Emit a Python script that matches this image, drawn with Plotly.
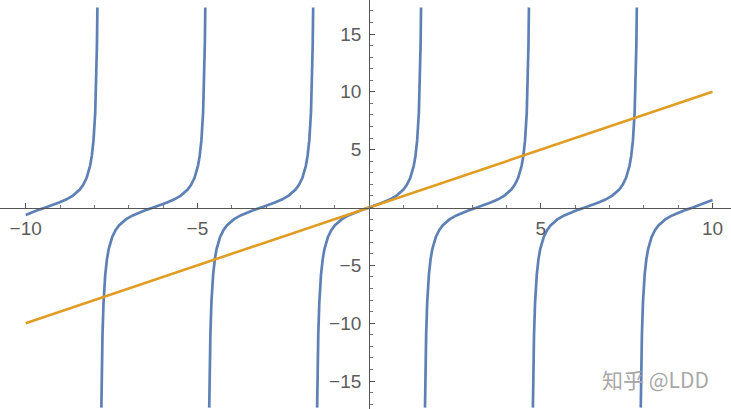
import plotly.graph_objects as go

# y = tan(x) branches (shared shape per branch)
branch_y = [-17.3, -14.10, -10.98, -8.238, -5.798, -4.455, -3.602, -2.572, -1.965, -1.557,
            -1.030, -0.684, -0.423, -0.203, 0.0, 0.203, 0.423, 0.684, 1.030, 1.557,
            1.965, 2.572, 3.602, 4.455, 5.798, 8.238, 10.98, 14.10, 17.3]

x_b0 = [-1.513, -1.5, -1.48, -1.45, -1.4, -1.35, -1.3, -1.2, -1.1, -1.0,
        -0.8, -0.6, -0.4, -0.2, 0.0, 0.2, 0.4, 0.6, 0.8, 1.0,
        1.1, 1.2, 1.3, 1.35, 1.4, 1.45, 1.48, 1.5, 1.513]
x_b1 = [1.6286, 1.6416, 1.6616, 1.6916, 1.7416, 1.7916, 1.8416, 1.9416, 2.0416, 2.1416,
        2.3416, 2.5416, 2.7416, 2.9416, 3.1416, 3.3416, 3.5416, 3.7416, 3.9416, 4.1416,
        4.2416, 4.3416, 4.4416, 4.4916, 4.5416, 4.5916, 4.6216, 4.6416, 4.6546]
x_b2 = [4.7702, 4.7832, 4.8032, 4.8332, 4.8832, 4.9332, 4.9832, 5.0832, 5.1832, 5.2832,
        5.4832, 5.6832, 5.8832, 6.0832, 6.2832, 6.4832, 6.6832, 6.8832, 7.0832, 7.2832,
        7.3832, 7.4832, 7.5832, 7.6332, 7.6832, 7.7332, 7.7632, 7.7832, 7.7962]
x_bm1 = [-4.6546, -4.6416, -4.6216, -4.5916, -4.5416, -4.4916, -4.4416, -4.3416, -4.2416, -4.1416,
         -3.9416, -3.7416, -3.5416, -3.3416, -3.1416, -2.9416, -2.7416, -2.5416, -2.3416, -2.1416,
         -2.0416, -1.9416, -1.8416, -1.7916, -1.7416, -1.6916, -1.6616, -1.6416, -1.6286]
x_bm2 = [-7.7962, -7.7832, -7.7632, -7.7332, -7.6832, -7.6332, -7.5832, -7.4832, -7.3832, -7.2832,
         -7.0832, -6.8832, -6.6832, -6.4832, -6.2832, -6.0832, -5.8832, -5.6832, -5.4832, -5.2832,
         -5.1832, -5.0832, -4.9832, -4.9332, -4.8832, -4.8332, -4.8032, -4.7832, -4.7702]

# right partial branch (ends at x = 10)
x_b3 = [7.9118, 7.9248, 7.9448, 7.9748, 8.0248, 8.0748, 8.1248, 8.2248, 8.3248, 8.4248,
        8.6248, 8.8248, 9.0248, 9.2248, 9.4248, 9.6248, 9.8248, 10.0]
y_b3 = [-17.3, -14.10, -10.98, -8.238, -5.798, -4.455, -3.602, -2.572, -1.965, -1.557,
        -1.030, -0.684, -0.423, -0.203, 0.0, 0.203, 0.423, 0.649]
# left partial branch (starts at x = -10)
x_bm3 = [-10.0, -9.8248, -9.6248, -9.4248, -9.2248, -9.0248, -8.8248, -8.6248, -8.4248, -8.3248,
         -8.2248, -8.1248, -8.0748, -8.0248, -7.9748, -7.9448, -7.9248, -7.9118]
y_bm3 = [-0.649, -0.423, -0.203, 0.0, 0.203, 0.423, 0.684, 1.030, 1.557, 1.965,
         2.572, 3.602, 4.455, 5.798, 8.238, 10.98, 14.10, 17.3]

# y = x line
line_x = [-10, 10]
line_y = [-10, 10]

x_ticks = [-10, -5, 5, 10]
y_ticks = [-15, -10, -5, 5, 10, 15]

tan_x, tan_y = [], []
for xs, ys in [(x_bm3, y_bm3), (x_bm2, branch_y), (x_bm1, branch_y), (x_b0, branch_y),
               (x_b1, branch_y), (x_b2, branch_y), (x_b3, y_b3)]:
    tan_x += xs + [None]
    tan_y += ys + [None]

BLUE = "#5E81B5"
ORANGE = "#E19C24"

fig = go.Figure()
fig.add_trace(go.Scatter(x=tan_x, y=tan_y, mode="lines",
                         line=dict(color=BLUE, width=2.7), connectgaps=False,
                         hoverinfo="skip"))
fig.add_trace(go.Scatter(x=line_x, y=line_y, mode="lines",
                         line=dict(color=ORANGE, width=2.6), hoverinfo="skip"))

xr = [-10.748, 10.539]
yr = [-17.42, 17.94]
xpos = (0 - xr[0]) / (xr[1] - xr[0])
ypos = (0 - yr[0]) / (yr[1] - yr[0])

axis_font = dict(family="Liberation Sans, Arial, sans-serif", size=19, color="#5c5c5c")

fig.update_layout(
    width=731, height=409,
    margin=dict(l=0, r=0, t=0, b=0, pad=0),
    plot_bgcolor="white", paper_bgcolor="white",
    showlegend=False,
    xaxis=dict(range=xr, showgrid=False, zeroline=False, automargin=False,
               showline=True, linecolor="#555555", linewidth=1,
               anchor="free", position=ypos,
               tickmode="array", tickvals=x_ticks,
               ticks="inside", ticklen=5, tickcolor="#555555", tickwidth=1,
               minor=dict(ticks="inside", dtick=1, ticklen=3, tickcolor="#777777", showgrid=False),
               tickfont=axis_font, ticklabelstandoff=4),
    yaxis=dict(range=yr, showgrid=False, zeroline=False, automargin=False,
               showline=True, linecolor="#555555", linewidth=1,
               anchor="free", position=xpos,
               tickmode="array", tickvals=y_ticks,
               ticks="inside", ticklen=5, tickcolor="#555555", tickwidth=1,
               minor=dict(ticks="inside", dtick=1, ticklen=3, tickcolor="#777777", showgrid=False),
               tickfont=axis_font, ticklabelstandoff=4),
    annotations=[dict(text="知乎 @LDD", x=0.897, y=0.073, xref="paper", yref="paper",
                      showarrow=False, xanchor="center", yanchor="middle",
                      font=dict(family="Noto Sans CJK SC", size=21, color="#a8a8a8"))],
)

fig.write_html("out.html", config={"displayModeBar": False},
               post_script="document.body.style.margin='0';document.body.style.padding='0';")
